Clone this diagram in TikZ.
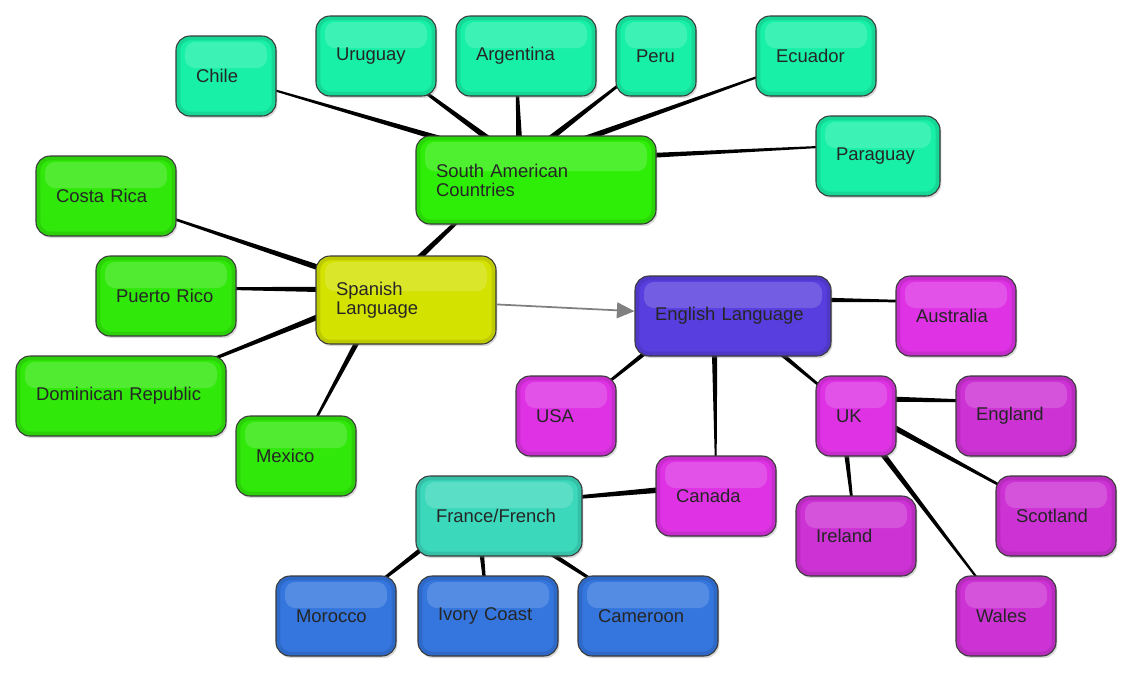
\documentclass[tikz,border=0pt]{standalone}
\usepackage{fontspec}
\setmainfont{Liberation Sans}
\usetikzlibrary{calc,shadows,backgrounds,arrows.meta}

\definecolor{boxedge}{RGB}{58,58,58}
\definecolor{saleaf}{RGB}{24,240,168}
\definecolor{sagreen}{RGB}{46,238,8}
\definecolor{spgreen}{RGB}{48,232,10}
\definecolor{spyellow}{RGB}{212,226,0}
\definecolor{enblue}{RGB}{88,62,222}
\definecolor{enpink}{RGB}{222,50,228}
\definecolor{ukpink}{RGB}{205,50,212}
\definecolor{frteal}{RGB}{60,216,188}
\definecolor{frblue}{RGB}{52,118,222}

\begin{document}
\begin{tikzpicture}[x=0.02cm,y=-0.02cm,
  box/.style={draw=boxedge, line width=0.6pt, rounded corners=0.28cm, fill=#1,
    text=black!85, font=\fontsize{10.5}{10.8}\selectfont, align=left,
    inner xsep=0.4cm, inner ysep=0pt,
    drop shadow={shadow xshift=0.8pt, shadow yshift=-1.2pt, opacity=0.3},
    path picture={
      \draw[black, opacity=0.1, line width=5pt, rounded corners=0.28cm]
        (path picture bounding box.south west) rectangle (path picture bounding box.north east);
      \fill[white, fill opacity=0.16, rounded corners=0.2cm]
        ($(path picture bounding box.north west)+(0.18cm,-0.12cm)$) rectangle
        ($(path picture bounding box.north east)!0.4!(path picture bounding box.south east)+(-0.18cm,0)$);}},
  sz/.style 2 args={minimum width=#1*0.02cm, minimum height=#2*0.02cm, text width=(#1-40)*0.02cm},
  link/.style={to path={($(\tikztostart)!2pt!90:(\tikztotarget)$) -- ($(\tikztotarget)!0.3pt!-90:(\tikztostart)$)
    -- ($(\tikztotarget)!0.3pt!90:(\tikztostart)$) -- ($(\tikztostart)!2pt!-90:(\tikztotarget)$) -- cycle}}]
\useasboundingbox (0,0) rectangle (1140,680);

% south america
\node[box=saleaf, sz={100}{80}] (chile) at (226,76) {Chile};
\node[box=saleaf, sz={120}{80}] (uruguay) at (376,56) {Uruguay};
\node[box=saleaf, sz={140}{80}] (argentina) at (526,56) {Argentina};
\node[box=saleaf, sz={80}{80}] (peru) at (656,56) {Peru};
\node[box=saleaf, sz={120}{80}] (ecuador) at (816,56) {Ecuador};
\node[box=saleaf, sz={124}{80}] (paraguay) at (878,156) {Paraguay};
\node[box=sagreen, sz={240}{88}] (sa) at (536,180) {South American\\Countries};

% spanish
\node[box=spgreen, sz={140}{80}] (costa) at (106,196) {Costa Rica};
\node[box=spgreen, sz={140}{80}] (puerto) at (166,296) {Puerto Rico};
\node[box=spgreen, sz={210}{80}] (dominican) at (121,396) {Dominican Republic};
\node[box=spgreen, sz={120}{80}] (mexico) at (296,456) {Mexico};
\node[box=spyellow, sz={180}{88}] (spanish) at (406,300) {Spanish\\Language};

% english
\node[box=enblue, sz={196}{80}] (english) at (733,316) {English Language};
\node[box=enpink, sz={120}{80}] (australia) at (956,316) {Australia};
\node[box=enpink, sz={100}{80}] (usa) at (566,416) {USA};
\node[box=enpink, sz={80}{80}] (uk) at (856,416) {UK};
\node[box=enpink, sz={120}{80}] (canada) at (716,496) {Canada};
\node[box=ukpink, sz={120}{80}] (england) at (1016,416) {England};
\node[box=ukpink, sz={120}{80}] (scotland) at (1056,516) {Scotland};
\node[box=ukpink, sz={120}{80}] (ireland) at (856,536) {Ireland};
\node[box=ukpink, sz={100}{80}] (wales) at (1006,616) {Wales};

% french
\node[box=frteal, sz={166}{80}] (france) at (499,516) {France/French};
\node[box=frblue, sz={120}{80}] (morocco) at (336,616) {Morocco};
\node[box=frblue, sz={140}{80}] (ivory) at (488,616) {Ivory Coast};
\node[box=frblue, sz={140}{80}] (cameroon) at (648,616) {Cameroon};

\coordinate (sahub) at (520,162);
\coordinate (sphub) at (385,290);
\coordinate (enhub) at (714,298);
\coordinate (ukhub) at (840,398);
\coordinate (frhub) at (477,506);
\coordinate (cahub) at (716,485);

\begin{pgfonlayer}{background}
\fill (sahub) to[link] (chile);
\fill (sahub) to[link] (uruguay);
\fill (sahub) to[link] ($(argentina)+(-10,0)$);
\fill (sahub) to[link] (peru);
\fill (sahub) to[link] (ecuador);
\fill (sahub) to[link] ($(paraguay)+(0,-12)$);
\fill (sphub) to[link] (sahub);
\fill (sphub) to[link] (costa);
\fill (sphub) to[link] ($(puerto)+(0,-8)$);
\fill (sphub) to[link] (dominican);
\fill (sphub) to[link] (mexico);
\fill (enhub) to[link] ($(australia)+(0,-14)$);
\fill (enhub) to[link] (usa);
\fill (enhub) to[link] (uk);
\fill (enhub) to[link] (cahub);
\fill (ukhub) to[link] ($(england)+(0,-14)$);
\fill (ukhub) to[link] (scotland);
\fill (ukhub) to[link] (ireland);
\fill (ukhub) to[link] (wales);
\fill (cahub) to[link] (frhub);
\fill (frhub) to[link] (morocco);
\fill (frhub) to[link] (ivory);
\fill (frhub) to[link] (cameroon);
\end{pgfonlayer}

\draw [gray, line width=1pt, -{Triangle[length=10pt,width=9pt]}] (spanish) -- (english);
\end{tikzpicture}
\end{document}
